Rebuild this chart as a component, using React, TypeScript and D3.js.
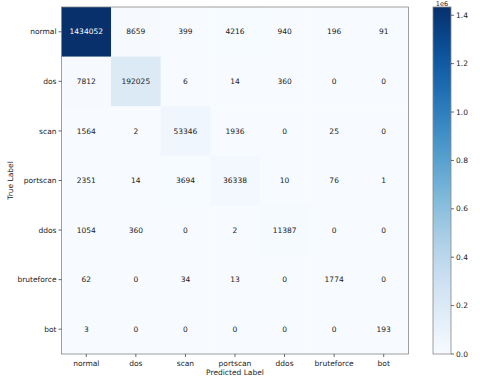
import React from 'react';
import * as d3 from 'd3';

const labels = ['normal', 'dos', 'scan', 'portscan', 'ddos', 'bruteforce', 'bot'];

const rowNormal = [1434052, 8659, 399, 4216, 940, 196, 91];
const rowDos = [7812, 192025, 6, 14, 360, 0, 0];
const rowScan = [1564, 2, 53346, 1936, 0, 25, 0];
const rowPortscan = [2351, 14, 3694, 36338, 10, 76, 1];
const rowDdos = [1054, 360, 0, 2, 11387, 0, 0];
const rowBruteforce = [62, 0, 34, 13, 0, 1774, 0];
const rowBot = [3, 0, 0, 0, 0, 0, 193];

const matrix = [rowNormal, rowDos, rowScan, rowPortscan, rowDdos, rowBruteforce, rowBot];

const colorbarTicks = [0, 0.2e6, 0.4e6, 0.6e6, 0.8e6, 1.0e6, 1.2e6, 1.4e6];

export default function App() {
  const width = 480;
  const height = 383;
  const plot = { left: 61.5, top: 7, size: 347 };
  const cb = { left: 433, width: 18, top: 7, bottom: 354 };

  const maxVal = d3.max(matrix.flat()) || 1;

  const x = d3.scaleBand().domain(labels).range([plot.left, plot.left + plot.size]);
  const y = d3.scaleBand().domain(labels).range([plot.top, plot.top + plot.size]);
  const color = d3.scaleSequential(d3.interpolateBlues).domain([0, maxVal]);
  const cbY = d3.scaleLinear().domain([0, maxVal]).range([cb.bottom, cb.top]);

  const font = 'DejaVu Sans, sans-serif';
  const gradStops = d3.range(0, 1.0001, 0.05);

  return (
    <div style={{ position: 'absolute', left: 0, top: 0 }}>
      <svg width={width} height={height} style={{ display: 'block', background: '#fff' }} fontFamily={font}>
        <defs>
          <linearGradient id="cbGrad" x1="0" y1="1" x2="0" y2="0">
            {gradStops.map((t) => (
              <stop key={t} offset={t} stopColor={d3.interpolateBlues(t)} />
            ))}
          </linearGradient>
        </defs>

        {/* cells */}
        {matrix.map((row, i) =>
          row.map((v, j) => (
            <g key={`${i}-${j}`}>
              <rect
                x={x(labels[j])}
                y={y(labels[i])}
                width={x.bandwidth() + 0.5}
                height={y.bandwidth() + 0.5}
                fill={color(v)}
              />
              <text
                x={(x(labels[j]) || 0) + x.bandwidth() / 2}
                y={(y(labels[i]) || 0) + y.bandwidth() / 2}
                dy="0.35em"
                textAnchor="middle"
                fontSize={7.5}
                fill={v > maxVal / 2 ? '#fff' : '#222'}
              >
                {v}
              </text>
            </g>
          ))
        )}

        <rect x={plot.left} y={plot.top} width={plot.size} height={plot.size} fill="none" stroke="#888" strokeWidth={0.8} />

        {/* y axis */}
        {labels.map((l) => {
          const cy = (y(l) || 0) + y.bandwidth() / 2;
          return (
            <g key={`y-${l}`}>
              <line x1={plot.left - 3} x2={plot.left} y1={cy} y2={cy} stroke="#444" strokeWidth={0.8} />
              <text x={plot.left - 5} y={cy} dy="0.35em" textAnchor="end" fontSize={7.5} fill="#222">
                {l}
              </text>
            </g>
          );
        })}

        {/* x axis */}
        {labels.map((l) => {
          const cx = (x(l) || 0) + x.bandwidth() / 2;
          return (
            <g key={`x-${l}`}>
              <line x1={cx} x2={cx} y1={plot.top + plot.size} y2={plot.top + plot.size + 3} stroke="#444" strokeWidth={0.8} />
              <text x={cx} y={plot.top + plot.size + 12} textAnchor="middle" fontSize={7.5} fill="#222">
                {l}
              </text>
            </g>
          );
        })}

        <text x={plot.left + plot.size / 2} y={375} textAnchor="middle" fontSize={7.5} fill="#222">
          Predicted Label
        </text>
        <text transform={`translate(13, ${plot.top + plot.size / 2}) rotate(-90)`} textAnchor="middle" fontSize={7.5} fill="#222">
          True Label
        </text>

        {/* colorbar */}
        <rect x={cb.left} y={cb.top} width={cb.width} height={cb.bottom - cb.top} fill="url(#cbGrad)" stroke="#888" strokeWidth={0.8} />
        {colorbarTicks.map((t) => (
          <g key={`cb-${t}`}>
            <line x1={cb.left + cb.width} x2={cb.left + cb.width + 3} y1={cbY(t)} y2={cbY(t)} stroke="#444" strokeWidth={0.8} />
            <text x={cb.left + cb.width + 5} y={cbY(t)} dy="0.35em" fontSize={7.5} fill="#222">
              {(t / 1e6).toFixed(1)}
            </text>
          </g>
        ))}
        <text x={cb.left + cb.width / 2} y={6} textAnchor="middle" fontSize={6.5} fill="#222">
          1e6
        </text>
      </svg>
    </div>
  );
}
